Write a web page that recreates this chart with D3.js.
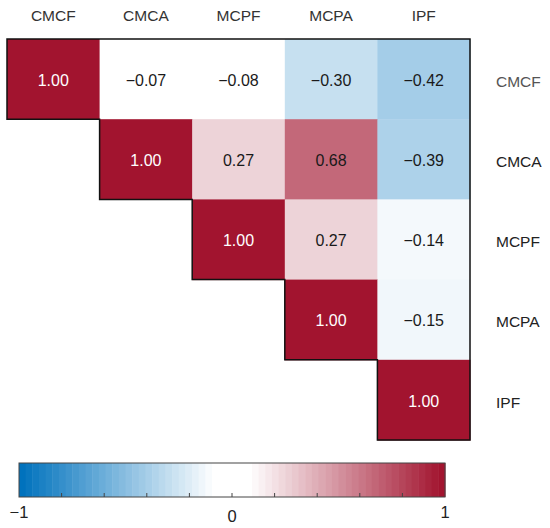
<!DOCTYPE html>
<html>
<head>
<meta charset="utf-8">
<script src="https://cdn.jsdelivr.net/npm/d3@7"></script>
<style>
  body { margin: 0; background: #fff; }
  text { font-family: Arial, "Liberation Sans", Helvetica, sans-serif; }
</style>
</head>
<body>
<svg id="chart" width="550" height="528"></svg>
<script>
// variables, in row / column order
var labels = ["CMCF", "CMCA", "MCPF", "MCPA", "IPF"];

// upper triangle of the correlation matrix, one row per variable
var rowCMCF = [1.00, -0.07, -0.08, -0.30, -0.42];
var rowCMCA = [1.00, 0.27, 0.68, -0.39];
var rowMCPF = [1.00, 0.27, -0.14];
var rowMCPA = [1.00, -0.15];
var rowIPF = [1.00];

var rows = [rowCMCF, rowCMCA, rowMCPF, rowMCPA, rowIPF];

var barTicks = [-0.8, -0.6, -0.4, -0.2, 0, 0.2, 0.4, 0.6, 0.8];
var barLabels = [-1, 0, 1];

var svg = d3.select("#chart");

var x = d3.scaleBand().domain(labels).range([7, 470]);
var y = d3.scaleBand().domain(labels).range([39, 440]);

// blue - white - red with a white band around zero
var color = d3.scaleLinear()
    .domain([-1, -0.1, 0.1, 1])
    .range(["rgb(0,114,189)", "#ffffff", "#ffffff", "rgb(162,20,47)"])
    .clamp(true);

var cells = [];
rows.forEach(function (r, i) {
    r.forEach(function (v, k) {
        cells.push({row: labels[i], col: labels[i + k], value: v, diag: k === 0});
    });
});

svg.selectAll("rect.cell")
    .data(cells)
    .enter()
    .append("rect")
    .attr("class", "cell")
    .attr("x", function (d) { return x(d.col); })
    .attr("y", function (d) { return y(d.row); })
    .attr("width", x.bandwidth() + 0.5)
    .attr("height", y.bandwidth() + 0.5)
    .attr("fill", function (d) { return color(d.value); });

svg.selectAll("text.val")
    .data(cells)
    .enter()
    .append("text")
    .attr("class", "val")
    .attr("x", function (d) { return x(d.col) + x.bandwidth() / 2; })
    .attr("y", function (d) { return y(d.row) + y.bandwidth() / 2; })
    .attr("dy", "0.42em")
    .attr("text-anchor", "middle")
    .attr("font-size", 16)
    .attr("fill", function (d) { return d.diag ? "#ffffff" : "#1a1a1a"; })
    .text(function (d) { return d3.format(".2f")(d.value).replace("-", "\u2212"); });

// staircase outline round the triangle
var n = labels.length;
var edge = function (i) { return i < n ? x(labels[i]) : x.range()[1]; };
var edgeY = function (i) { return i < n ? y(labels[i]) : y.range()[1]; };
var pts = [[edge(0), edgeY(0)], [edge(n), edgeY(0)], [edge(n), edgeY(n)]];
for (var i = n - 1; i >= 0; i--) {
    pts.push([edge(i), edgeY(i + 1)]);
    pts.push([edge(i), edgeY(i)]);
}
svg.append("path")
    .attr("d", d3.line()(pts) + "Z")
    .attr("fill", "none")
    .attr("stroke", "#111")
    .attr("stroke-width", 1.5);

// column labels on top
svg.selectAll("text.top")
    .data(labels)
    .enter()
    .append("text")
    .attr("class", "top")
    .attr("x", function (d) { return x(d) + x.bandwidth() / 2; })
    .attr("y", 21)
    .attr("text-anchor", "middle")
    .attr("font-size", 15.5)
    .attr("fill", "#333")
    .text(function (d) { return d; });

// row labels on the right
svg.selectAll("text.right")
    .data(labels)
    .enter()
    .append("text")
    .attr("class", "right")
    .attr("x", 496)
    .attr("y", function (d) { return y(d) + y.bandwidth() / 2; })
    .attr("dy", "0.5em")
    .attr("font-size", 15.5)
    .attr("fill", function (d, i) { return i === 0 ? "#555" : "#222"; })
    .text(function (d) { return d; });

// colour bar
var cb = d3.scaleLinear().domain([-1, 1]).range([19, 445]);
var cbTop = 463, cbH = 34;
var nSteps = 64;
var steps = d3.range(nSteps).map(function (k) { return -1 + 2 * k / nSteps; });

svg.selectAll("rect.cb")
    .data(steps)
    .enter()
    .append("rect")
    .attr("class", "cb")
    .attr("x", function (d) { return cb(d); })
    .attr("y", cbTop)
    .attr("width", cb(2 / nSteps) - cb(0) + 0.5)
    .attr("height", cbH)
    .attr("fill", function (d) {
        var mid = d + 1 / nSteps;
        return color(d < 0 ? d : d + 2 / nSteps);
    });

svg.append("rect")
    .attr("x", cb(-1))
    .attr("y", cbTop)
    .attr("width", cb(1) - cb(-1))
    .attr("height", cbH)
    .attr("fill", "none")
    .attr("stroke", "#444")
    .attr("stroke-width", 1);

svg.selectAll("line.cbtick")
    .data(barTicks)
    .enter()
    .append("line")
    .attr("class", "cbtick")
    .attr("x1", function (d) { return cb(d); })
    .attr("x2", function (d) { return cb(d); })
    .attr("y1", cbTop + cbH)
    .attr("y2", cbTop + cbH - 4)
    .attr("stroke", "#444")
    .attr("stroke-width", 1);

svg.selectAll("text.cblab")
    .data(barLabels)
    .enter()
    .append("text")
    .attr("class", "cblab")
    .attr("x", function (d) { return cb(d); })
    .attr("y", function (d) { return d === 0 ? 522 : 518; })
    .attr("text-anchor", "middle")
    .attr("font-size", 16.5)
    .attr("fill", "#222")
    .text(function (d) { return d < 0 ? "\u2212" + Math.abs(d) : d; });
</script>
</body>
</html>
